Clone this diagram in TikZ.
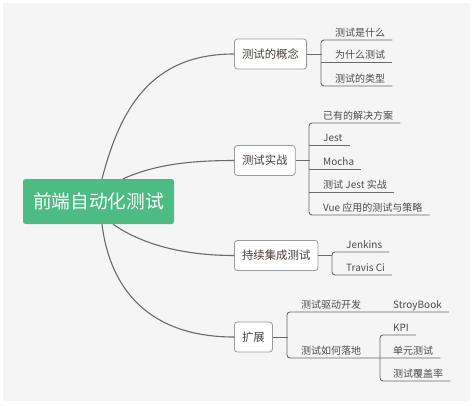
\documentclass[tikz,border=0pt]{standalone}
\usepackage{fontspec}
\setmainfont{Noto Sans CJK SC}
\definecolor{bgc}{HTML}{F5F5F5}
\definecolor{rootg}{HTML}{4CBB84}
\definecolor{linec}{HTML}{6A6A6A}
\definecolor{boxline}{HTML}{9A9A9A}
\definecolor{btext}{HTML}{4A403A}
\definecolor{ltext}{HTML}{4D4D4D}
\tikzset{
  rootbox/.style={fill=rootg, rounded corners=2.5pt, minimum width=151pt, minimum height=45pt,
    text=white, inner sep=0pt, font=\fontsize{18.7}{22}\selectfont},
  branchbox/.style={draw=boxline, fill=white, line width=0.8pt, rounded corners=3pt, anchor=west,
    minimum height=30pt, inner xsep=7.6pt, inner ysep=0pt, text=btext, font=\fontsize{11.4}{13}\selectfont},
  leaf/.style={anchor=base west, inner sep=0pt, text=ltext, font=\fontsize{10}{12}\selectfont},
  conn/.style={draw=linec, line width=0.9pt},
  curve/.style={draw=linec, line width=1.1pt},
  ul/.style={shift={(7,3.5)}}
}
\begin{document}
\begin{tikzpicture}[x=1pt,y=-1pt]
\useasboundingbox (0,0) rectangle (474,405);
\fill[bgc] (3,3) rectangle (470,401);

% root
\node[rootbox] (root) at (98.5,201.5) {前端自动化测试};

% branches
\node[branchbox] (b1) at (234,54) {测试的概念};
\node[branchbox] (b2) at (234,160.5) {测试实战};
\node[branchbox] (b3) at (234,255.5) {持续集成测试};
\node[branchbox] (b4) at (234,337) {扩展};

% curves
\draw[curve] ([xshift=3.5pt]root.north) .. controls (120,110) and (150,54) .. (b1.west);
\draw[curve] ([xshift=24.5pt]root.north) .. controls (150,167) and (180,160.5) .. (b2.west);
\draw[curve] ([xshift=14.5pt]root.south) .. controls (140,243) and (180,255.5) .. (b3.west);
\draw[curve] ([xshift=3.5pt]root.south) .. controls (110,290) and (150,337) .. (b4.west);

% branch 1
\node[leaf] (c11) at (335,36.5) {测试是什么};
\node[leaf] (c12) at (335,58.5) {为什么测试};
\node[leaf] (c13) at (335,82.5) {测试的类型};
\draw[conn] (b1.east) -- ++(15,0);
\draw[conn, rounded corners=3pt] ([ul]c11.base east) -- (321,40) -- (321,86) -- ([ul]c13.base east);
\draw[conn] (321,62) -- ([ul]c12.base east);

% branch 2
\node[leaf] (c21) at (323,119.5) {已有的解决方案};
\node[leaf] (c22) at (323,141.5) {Jest};
\node[leaf] (c23) at (323,165.5) {Mocha};
\node[leaf] (c24) at (323,188.5) {测试 Jest 实战};
\node[leaf] (c25) at (323,211.5) {Vue 应用的测试与策略};
\draw[conn] (b2.east) -- ++(14,0);
\draw[conn, rounded corners=3pt] ([ul]c21.base east) -- (309,123) -- (309,215) -- ([ul]c25.base east);
\draw[conn] (309,145) -- ([ul]c22.base east);
\draw[conn] (309,169) -- ([ul]c23.base east);
\draw[conn] (309,192) -- ([ul]c24.base east);

% branch 3
\node[leaf] (c31) at (346,248.5) {Jenkins};
\node[leaf] (c32) at (346,271.5) {Travis Ci};
\draw[conn] (b3.east) -- ++(14,0);
\draw[conn, rounded corners=3pt] ([ul]c31.base east) -- (332,252) -- (332,275) -- ([ul]c32.base east);

% branch 4
\node[leaf] (c41) at (301,308.5) {测试驱动开发};
\node[leaf] (c411) at (393,308.5) {StroyBook};
\node[leaf] (c42) at (301,354.5) {测试如何落地};
\node[leaf] (c421) at (393,331.5) {KPI};
\node[leaf] (c422) at (393,354.5) {单元测试};
\node[leaf] (c423) at (393,377.5) {测试覆盖率};
\draw[conn] (b4.east) -- ++(15,0);
\draw[conn, rounded corners=3pt] ([ul]c411.base east) -- (287,312) -- (287,358) -- ([ul]c422.base east);
\draw[conn, rounded corners=3pt] ([ul]c421.base east) -- (380,335) -- (380,381) -- ([ul]c423.base east);
\end{tikzpicture}
\end{document}
